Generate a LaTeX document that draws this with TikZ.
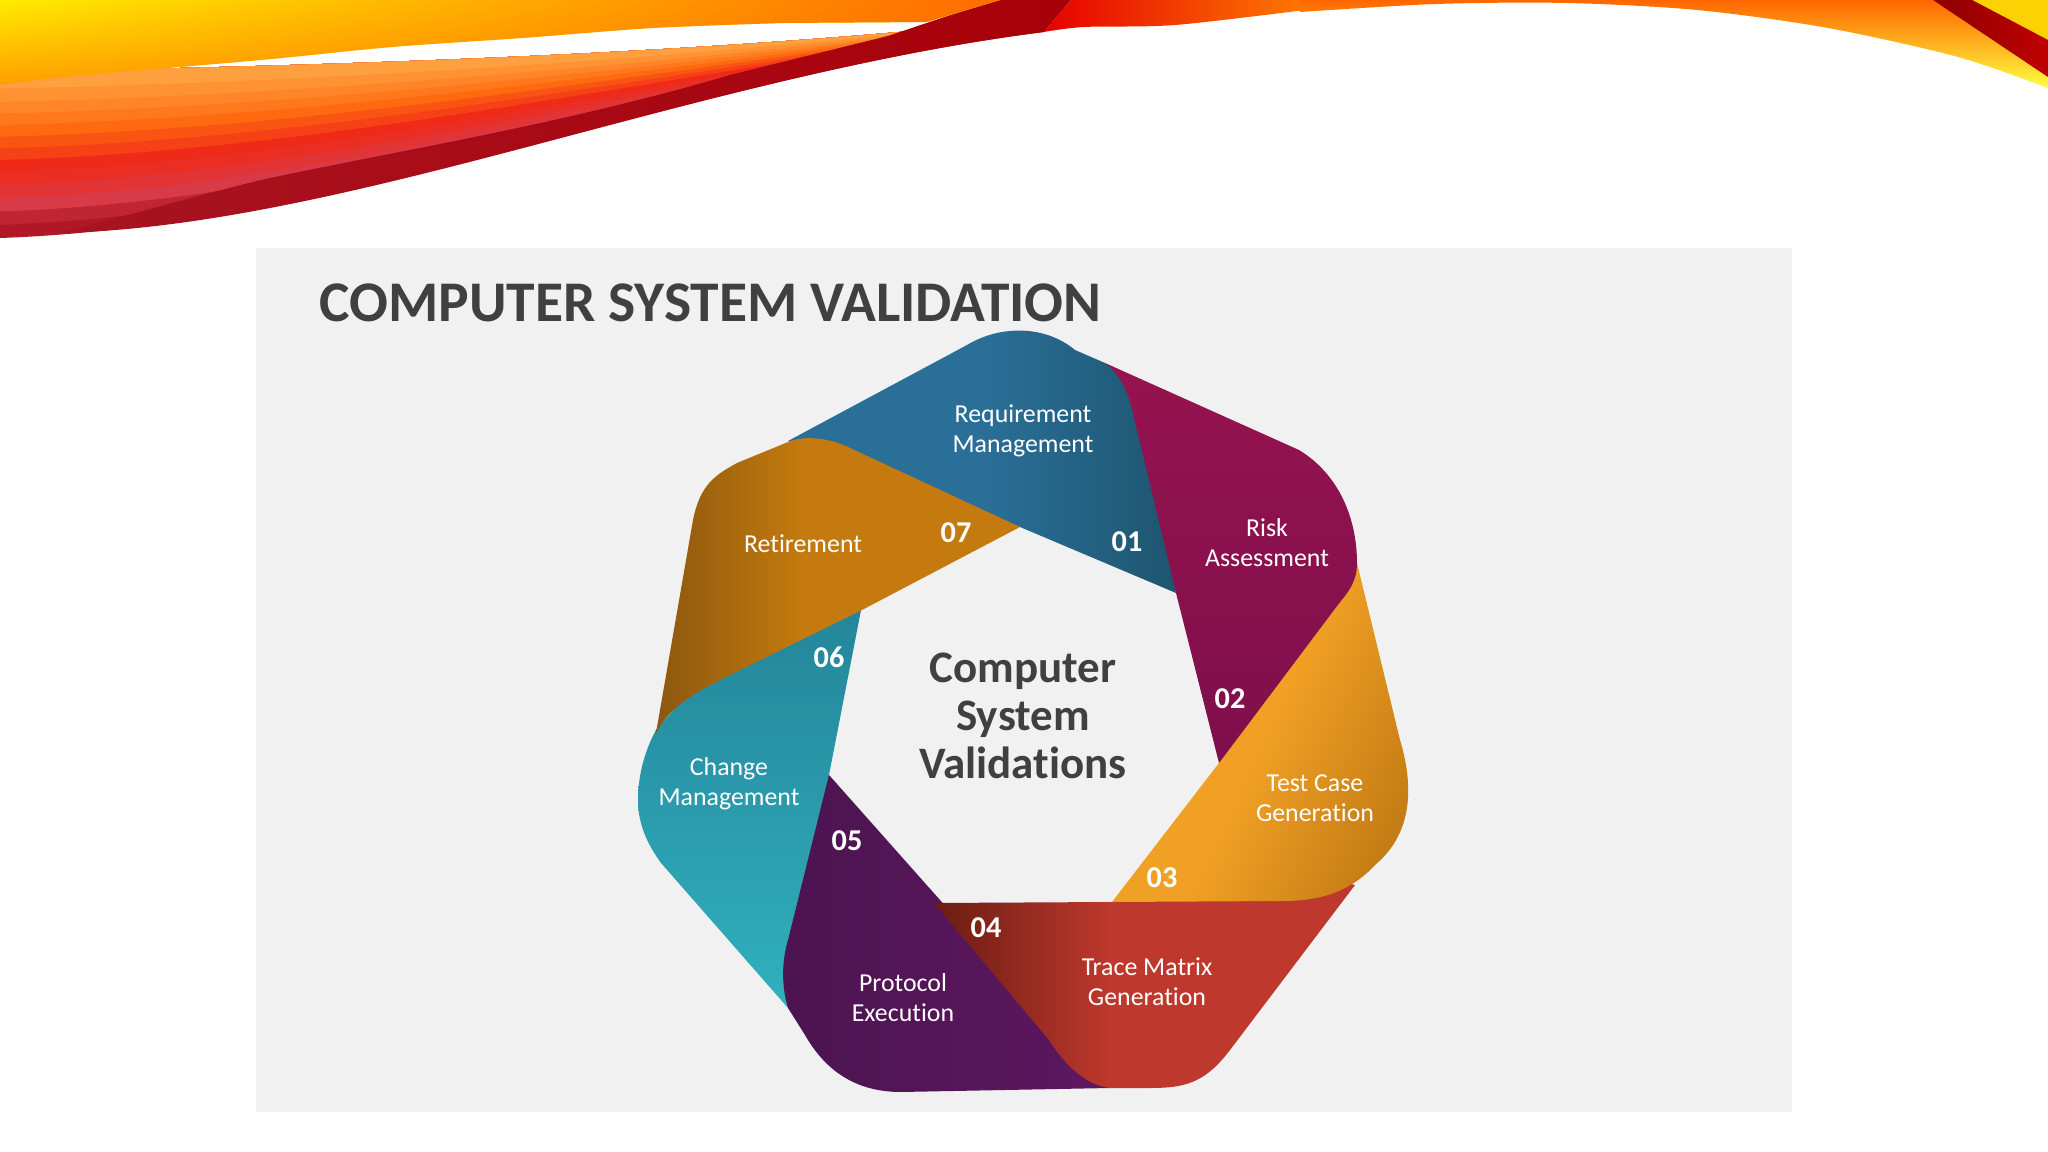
\documentclass[tikz,border=0pt]{standalone}
\usepackage{fontspec}
\setmainfont{Carlito}[Ligatures=NoCommon]
\usetikzlibrary{fadings}

\definecolor{panel_bg}{HTML}{F1F1F1}
\definecolor{dark_text}{HTML}{404040}
\definecolor{blue_a}{HTML}{2A6F98}
\definecolor{blue_b}{HTML}{1E5570}
\definecolor{red_a}{HTML}{6A1C12}
\definecolor{red_b}{HTML}{BE382D}
\definecolor{brown_a}{HTML}{8C570F}
\definecolor{brown_b}{HTML}{C47A0E}
\definecolor{gold_a}{HTML}{F0A024}
\definecolor{gold_b}{HTML}{C47C14}
\definecolor{teal_a}{HTML}{24859A}
\definecolor{teal_b}{HTML}{30B0BE}
\definecolor{plum_a}{HTML}{4C1450}
\definecolor{plum_b}{HTML}{5E1760}
\definecolor{wine_a}{HTML}{96134F}
\definecolor{wine_b}{HTML}{7E0F4C}
\definecolor{band_a}{HTML}{B01828}
\definecolor{band_b}{HTML}{D83A48}
\definecolor{band_c}{HTML}{F02A18}
\definecolor{band_d}{HTML}{FF6A10}
\definecolor{band_e}{HTML}{FFA040}
\definecolor{strip_a}{HTML}{A81422}
\definecolor{strip_b}{HTML}{A80008}

\pgfdeclarehorizontalshading{blue_fade}{100bp}{color(0bp)=(blue_a); color(25bp)=(blue_a); color(50bp)=(blue_a); color(75bp)=(blue_b); color(100bp)=(blue_b)}
\pgfdeclarehorizontalshading{red_fade}{100bp}{color(0bp)=(red_a); color(25bp)=(red_a); color(46bp)=(red_b); color(100bp)=(red_b)}
\pgfdeclarehorizontalshading{brown_fade}{100bp}{color(0bp)=(brown_a); color(25bp)=(brown_a); color(45bp)=(brown_b); color(100bp)=(brown_b)}
\pgfdeclarehorizontalshading{gold_fade}{100bp}{color(0bp)=(gold_a); color(25bp)=(gold_a); color(50bp)=(gold_a); color(75bp)=(gold_b); color(100bp)=(gold_b)}

\tikzset{
    seg_text/.style={text=white, align=center, inner sep=0pt, font=\fontsize{7.35}{8.5}\selectfont},
    seg_num/.style={text=white, inner sep=0pt, font=\fontsize{8.6}{10}\selectfont\bfseries},
}

\begin{document}
\begin{tikzpicture}[x=0.01cm, y=-0.01cm]
    \useasboundingbox (0, 0) rectangle (2048, 1152);
    \fill[white] (0, 0) rectangle (2048, 1152);

    % ribbon at the top
    \begin{scope}
        \clip (0, 0) rectangle (2048, 1152);
        % lower band, thin strips between its two edges
        \foreach \t/\c in {0/band_a, 0.08/band_a!60!band_b, 0.16/band_b, 0.24/band_b!60!band_c, 0.32/band_b!25!band_c, 0.40/band_c, 0.47/band_c!65!band_d,
                           0.54/band_c!35!band_d, 0.61/band_d, 0.68/band_d!75!band_e, 0.75/band_d!50!band_e, 0.82/band_d!25!band_e, 0.90/band_e} {
            \pgfmathsetmacro{\ya}{238 + \t*(72 - 238)}
            \pgfmathsetmacro{\yb}{226 + \t*(65 - 226)}
            \pgfmathsetmacro{\yc}{76 + \t*(55 - 76)}
            \pgfmathsetmacro{\yd}{32 + \t*(18 - 32)}
            \fill[\c] (0, \ya) .. controls (348, \yb) and (696, \yc) .. (1044, \yd) -- (1044, 18) .. controls (700, 55) and (350, 65) .. (0, 72) -- cycle;
        }
        \shade[left color=strip_a, right color=strip_b] (60, 233) .. controls (140, 212) and (200, 195) .. (261, 180) .. controls (400, 150) and (560, 125) .. (730, 75)
            -- (888, 36) -- (995, 0) -- (1071, 0) -- (1044, 32) .. controls (696, 76) and (348, 226) .. (60, 233) -- cycle;

        \shade[top color=yellow!85!orange, bottom color=orange!75!yellow] (0, 0) -- (1000, 0) -- (927, 22) -- plot[smooth] coordinates {(783, 23) (653, 28) (522, 38) (392, 47) (261, 60) (65, 77) (0, 85)} -- cycle;
        \fill[orange!85!red, path fading=west] (0, 0) -- (1000, 0) -- (927, 22) -- plot[smooth] coordinates {(783, 23) (653, 28) (522, 38) (392, 47) (261, 60) (65, 77) (0, 85)} -- cycle;

        \shade[left color=red!90!black, right color=orange] (1071, 0) -- (1320, 0) -- plot[smooth] coordinates {(1305, 10) (1175, 25) (1084, 27) (1044, 32)} -- cycle;
        \shade[top color=orange!80!red, bottom color=yellow!75!white] (1300, 0) -- plot[smooth] coordinates {(1300, 12) (1436, 4) (1567, 3) (1697, 10) (1828, 28) (1958, 57) (2048, 88)} -- (2048, 0) -- cycle;
        \fill[yellow!70!orange] (1972, 0) -- (2048, 0) -- (2048, 40) -- cycle;
        \shade[left color=red!55!black, right color=red!75!black] (1933, 0) -- (1972, 0) -- (2048, 40) -- (2048, 77) -- cycle;
    \end{scope}

    % panel
    \fill[panel_bg] (256, 248) rectangle (1792, 1112);

    % segments, each one slides under the next one drawn
    \shade[top color=teal_a, bottom color=teal_b] (862, 605) -- (829, 775) -- (832, 790) -- (795, 940) -- (790, 985) -- (788, 1008) -- (661, 863)
        .. controls (648, 845) and (638, 825) .. (638, 800) .. controls (638, 775) and (645, 750) .. (656, 730) -- (700, 680) -- cycle;
    \shade[left color=plum_a, right color=plum_b] (829, 775) -- (940, 900) -- (1060, 1035) .. controls (1075, 1065) and (1095, 1080) .. (1110, 1088)
        -- (901, 1092) .. controls (855, 1092) and (825, 1070) .. (805, 1035) -- (788, 1008) .. controls (781, 985) and (782, 960) .. (788, 940) -- cycle;
    \shade[shading=red_fade] (934, 903) -- (1112, 902) -- (1130, 895) -- (1283, 893) -- (1335, 880) -- (1355, 885) -- (1230, 1050) .. controls (1205, 1083) and (1185, 1088) .. (1150, 1088) -- (1110, 1088)
        .. controls (1085, 1085) and (1065, 1065) .. (1049, 1040) -- cycle;
    \shade[shading=gold_fade, shading angle=-25] (1357, 563) -- (1400, 740) .. controls (1418, 800) and (1405, 840) .. (1375, 865) .. controls (1350, 892) and (1320, 901) .. (1283, 901)
        -- (1112, 902) -- (1219, 763) -- (1325, 600) -- (1350, 570) -- cycle;
    \shade[top color=wine_a, bottom color=wine_b] (1105, 363) -- (1299, 450) .. controls (1340, 475) and (1357, 520) .. (1357, 563)
        .. controls (1357, 585) and (1345, 595) .. (1334, 610) -- (1219, 763) -- (1176, 593) -- (1150, 510) -- (1125, 400) -- cycle;
    \shade[shading=blue_fade] (788, 441) -- (967, 345) .. controls (1000, 325) and (1045, 325) .. (1075, 350) -- (1105, 363) .. controls (1120, 375) and (1128, 392) .. (1132, 410)
        -- (1176, 593) -- (1020, 527) -- (850, 455) -- (809, 450) -- cycle;
    \shade[shading=brown_fade] (656, 733) -- (693, 520) .. controls (700, 485) and (715, 475) .. (737, 463) -- (788, 442) .. controls (805, 435) and (830, 438) .. (850, 448)
        -- (1020, 527) -- (862, 610) -- (720, 680) .. controls (690, 695) and (668, 710) .. (656, 733) -- cycle;

    \node[anchor=west, inner sep=0pt, text=dark_text, font=\fontsize{16.35}{19}\selectfont\bfseries] (main_title) at (319, 303) {COMPUTER SYSTEM VALIDATION};
    \node[align=center, inner sep=0pt, text=dark_text, font=\fontsize{12.8}{13.6}\selectfont\bfseries] (center_text) at (1023, 716) {Computer\\System\\Validations};

    \node[seg_text] (req_text) at (1023, 431) {Requirement\\Management};
    \node[seg_text] (risk_text) at (1267, 543) {Risk\\Assessment};
    \node[seg_text] (test_text) at (1315, 798) {Test Case\\Generation};
    \node[seg_text] (trace_text) at (1147, 982) {Trace Matrix\\Generation};
    \node[seg_text] (protocol_text) at (903, 998) {Protocol\\Execution};
    \node[seg_text] (change_text) at (729, 784) {Change\\Management};
    \node[seg_text] (retire_text) at (803, 544) {Retirement};

    \node[seg_num] (num_1) at (1127, 542) {01};
    \node[seg_num] (num_2) at (1230, 699) {02};
    \node[seg_num] (num_3) at (1162, 878) {03};
    \node[seg_num] (num_4) at (986, 928) {04};
    \node[seg_num] (num_5) at (847, 841) {05};
    \node[seg_num] (num_6) at (829, 657) {06};
    \node[seg_num] (num_7) at (956, 533) {07};
\end{tikzpicture}
\end{document}
